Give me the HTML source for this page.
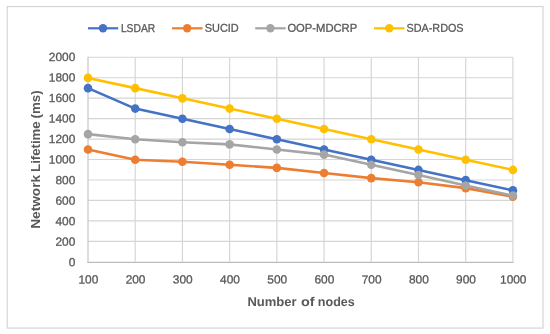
<!DOCTYPE html>
<html lang="en">
<head>
<meta charset="utf-8">
<title>Network Lifetime vs Number of nodes</title>
<style>
html,body{margin:0;padding:0;background:#fff;}
body{width:550px;height:334px;overflow:hidden;}
svg{display:block;}
text{font-family:"Liberation Sans",sans-serif;fill:#595959;}
.ax,.lg{stroke:#595959;stroke-width:0.3px;}
.ax{font-size:11.8px;}
.lg{font-size:11.3px;}
.tt{font-size:12.7px;font-weight:bold;}
</style>
</head>
<body>
<svg width="550" height="334" viewBox="0 0 550 334">
<rect x="0" y="0" width="550" height="334" fill="#ffffff"/>
<rect x="7.2" y="6.55" width="535.8" height="321.55" fill="#ffffff" stroke="#D3D3D3" stroke-width="1.15"/>

<g stroke="#D5D5D5" stroke-width="1.15" fill="none">
<line x1="88.00" y1="241.30" x2="512.90" y2="241.30"/>
<line x1="88.00" y1="220.85" x2="512.90" y2="220.85"/>
<line x1="88.00" y1="200.40" x2="512.90" y2="200.40"/>
<line x1="88.00" y1="179.95" x2="512.90" y2="179.95"/>
<line x1="88.00" y1="159.50" x2="512.90" y2="159.50"/>
<line x1="88.00" y1="139.05" x2="512.90" y2="139.05"/>
<line x1="88.00" y1="118.60" x2="512.90" y2="118.60"/>
<line x1="88.00" y1="98.15" x2="512.90" y2="98.15"/>
<line x1="88.00" y1="77.70" x2="512.90" y2="77.70"/>
<line x1="88.00" y1="57.25" x2="512.90" y2="57.25"/>
<line x1="135.21" y1="57.25" x2="135.21" y2="261.75"/>
<line x1="182.42" y1="57.25" x2="182.42" y2="261.75"/>
<line x1="229.63" y1="57.25" x2="229.63" y2="261.75"/>
<line x1="276.84" y1="57.25" x2="276.84" y2="261.75"/>
<line x1="324.06" y1="57.25" x2="324.06" y2="261.75"/>
<line x1="371.27" y1="57.25" x2="371.27" y2="261.75"/>
<line x1="418.48" y1="57.25" x2="418.48" y2="261.75"/>
<line x1="465.69" y1="57.25" x2="465.69" y2="261.75"/>
<line x1="512.90" y1="57.25" x2="512.90" y2="261.75"/>
</g>
<line x1="88.00" y1="56.75" x2="88.00" y2="262.65" stroke="#C8C8C8" stroke-width="1.25"/>
<line x1="87.40" y1="262.40" x2="513.50" y2="262.40" stroke="#BCBCBC" stroke-width="1.1"/>
<g class="ax" text-anchor="end">
<text transform="translate(75.3,266.20) rotate(0.03)" textLength="6.62" lengthAdjust="spacingAndGlyphs">0</text>
<text transform="translate(75.3,245.69) rotate(0.03)" textLength="19.86" lengthAdjust="spacingAndGlyphs">200</text>
<text transform="translate(75.3,225.17) rotate(0.03)" textLength="19.86" lengthAdjust="spacingAndGlyphs">400</text>
<text transform="translate(75.3,204.65) rotate(0.03)" textLength="19.86" lengthAdjust="spacingAndGlyphs">600</text>
<text transform="translate(75.3,184.14) rotate(0.03)" textLength="19.86" lengthAdjust="spacingAndGlyphs">800</text>
<text transform="translate(75.3,163.62) rotate(0.03)" textLength="26.48" lengthAdjust="spacingAndGlyphs">1000</text>
<text transform="translate(75.3,143.11) rotate(0.03)" textLength="26.48" lengthAdjust="spacingAndGlyphs">1200</text>
<text transform="translate(75.3,122.59) rotate(0.03)" textLength="26.48" lengthAdjust="spacingAndGlyphs">1400</text>
<text transform="translate(75.3,102.08) rotate(0.03)" textLength="26.48" lengthAdjust="spacingAndGlyphs">1600</text>
<text transform="translate(75.3,81.56) rotate(0.03)" textLength="26.48" lengthAdjust="spacingAndGlyphs">1800</text>
<text transform="translate(75.3,61.05) rotate(0.03)" textLength="26.48" lengthAdjust="spacingAndGlyphs">2000</text>
</g>
<g class="ax" text-anchor="middle">
<text transform="translate(88.35,283.4) rotate(0.03)" textLength="19.86" lengthAdjust="spacingAndGlyphs">100</text>
<text transform="translate(135.56,283.4) rotate(0.03)" textLength="19.86" lengthAdjust="spacingAndGlyphs">200</text>
<text transform="translate(182.77,283.4) rotate(0.03)" textLength="19.86" lengthAdjust="spacingAndGlyphs">300</text>
<text transform="translate(229.98,283.4) rotate(0.03)" textLength="19.86" lengthAdjust="spacingAndGlyphs">400</text>
<text transform="translate(277.19,283.4) rotate(0.03)" textLength="19.86" lengthAdjust="spacingAndGlyphs">500</text>
<text transform="translate(324.41,283.4) rotate(0.03)" textLength="19.86" lengthAdjust="spacingAndGlyphs">600</text>
<text transform="translate(371.62,283.4) rotate(0.03)" textLength="19.86" lengthAdjust="spacingAndGlyphs">700</text>
<text transform="translate(418.83,283.4) rotate(0.03)" textLength="19.86" lengthAdjust="spacingAndGlyphs">800</text>
<text transform="translate(466.04,283.4) rotate(0.03)" textLength="19.86" lengthAdjust="spacingAndGlyphs">900</text>
<text transform="translate(513.25,283.4) rotate(0.03)" textLength="26.48" lengthAdjust="spacingAndGlyphs">1000</text>
</g>
<g fill="#4472C4" stroke="none" transform="translate(0,0.2)">
<polyline points="88.00,87.93 135.21,108.38 182.42,118.60 229.63,128.82 276.84,139.05 324.06,149.28 371.27,159.50 418.48,169.72 465.69,179.95 512.90,190.18" fill="none" stroke="#4472C4" stroke-width="2.6" stroke-linejoin="round" stroke-linecap="round"/>
<circle cx="88.00" cy="87.93" r="4.3"/>
<circle cx="135.21" cy="108.38" r="4.3"/>
<circle cx="182.42" cy="118.60" r="4.3"/>
<circle cx="229.63" cy="128.82" r="4.3"/>
<circle cx="276.84" cy="139.05" r="4.3"/>
<circle cx="324.06" cy="149.28" r="4.3"/>
<circle cx="371.27" cy="159.50" r="4.3"/>
<circle cx="418.48" cy="169.72" r="4.3"/>
<circle cx="465.69" cy="179.95" r="4.3"/>
<circle cx="512.90" cy="190.18" r="4.3"/>
</g>
<g fill="#ED7D31" stroke="none" transform="translate(0,0.2)">
<polyline points="88.00,149.28 135.21,159.50 182.42,161.55 229.63,164.61 276.84,167.68 324.06,172.79 371.27,177.91 418.48,182.00 465.69,187.93 512.90,196.62" fill="none" stroke="#ED7D31" stroke-width="2.6" stroke-linejoin="round" stroke-linecap="round"/>
<circle cx="88.00" cy="149.28" r="4.3"/>
<circle cx="135.21" cy="159.50" r="4.3"/>
<circle cx="182.42" cy="161.55" r="4.3"/>
<circle cx="229.63" cy="164.61" r="4.3"/>
<circle cx="276.84" cy="167.68" r="4.3"/>
<circle cx="324.06" cy="172.79" r="4.3"/>
<circle cx="371.27" cy="177.91" r="4.3"/>
<circle cx="418.48" cy="182.00" r="4.3"/>
<circle cx="465.69" cy="187.93" r="4.3"/>
<circle cx="512.90" cy="196.62" r="4.3"/>
</g>
<g fill="#A5A5A5" stroke="none" transform="translate(0,0.2)">
<polyline points="88.00,133.94 135.21,139.05 182.42,142.12 229.63,144.16 276.84,149.28 324.06,154.39 371.27,164.61 418.48,174.84 465.69,185.37 512.90,195.39" fill="none" stroke="#A5A5A5" stroke-width="2.6" stroke-linejoin="round" stroke-linecap="round"/>
<circle cx="88.00" cy="133.94" r="4.3"/>
<circle cx="135.21" cy="139.05" r="4.3"/>
<circle cx="182.42" cy="142.12" r="4.3"/>
<circle cx="229.63" cy="144.16" r="4.3"/>
<circle cx="276.84" cy="149.28" r="4.3"/>
<circle cx="324.06" cy="154.39" r="4.3"/>
<circle cx="371.27" cy="164.61" r="4.3"/>
<circle cx="418.48" cy="174.84" r="4.3"/>
<circle cx="465.69" cy="185.37" r="4.3"/>
<circle cx="512.90" cy="195.39" r="4.3"/>
</g>
<g fill="#FFC000" stroke="none" transform="translate(0,0.2)">
<polyline points="88.00,77.70 135.21,87.93 182.42,98.15 229.63,108.38 276.84,118.60 324.06,128.82 371.27,139.05 418.48,149.28 465.69,159.50 512.90,169.72" fill="none" stroke="#FFC000" stroke-width="2.6" stroke-linejoin="round" stroke-linecap="round"/>
<circle cx="88.00" cy="77.70" r="4.3"/>
<circle cx="135.21" cy="87.93" r="4.3"/>
<circle cx="182.42" cy="98.15" r="4.3"/>
<circle cx="229.63" cy="108.38" r="4.3"/>
<circle cx="276.84" cy="118.60" r="4.3"/>
<circle cx="324.06" cy="128.82" r="4.3"/>
<circle cx="371.27" cy="139.05" r="4.3"/>
<circle cx="418.48" cy="149.28" r="4.3"/>
<circle cx="465.69" cy="159.50" r="4.3"/>
<circle cx="512.90" cy="169.72" r="4.3"/>
</g>
<line x1="88.0" y1="28.3" x2="118.2" y2="28.3" stroke="#4472C4" stroke-width="2.2"/>
<circle cx="103.0" cy="28.3" r="4.2" fill="#4472C4"/>
<text class="lg" transform="translate(120.9,31.8) rotate(0.03)" textLength="34.3" lengthAdjust="spacingAndGlyphs">LSDAR</text>
<line x1="172.0" y1="28.3" x2="202.6" y2="28.3" stroke="#ED7D31" stroke-width="2.2"/>
<circle cx="187.2" cy="28.3" r="4.2" fill="#ED7D31"/>
<text class="lg" transform="translate(204.7,31.8) rotate(0.03)" textLength="34.0" lengthAdjust="spacingAndGlyphs">SUCID</text>
<line x1="255.2" y1="28.3" x2="285.7" y2="28.3" stroke="#A5A5A5" stroke-width="2.2"/>
<circle cx="270.4" cy="28.3" r="4.2" fill="#A5A5A5"/>
<text class="lg" transform="translate(287.4,31.8) rotate(0.03)" textLength="69.8" lengthAdjust="spacingAndGlyphs">OOP-MDCRP</text>
<line x1="374.0" y1="28.3" x2="404.5" y2="28.3" stroke="#FFC000" stroke-width="2.2"/>
<circle cx="389.3" cy="28.3" r="4.2" fill="#FFC000"/>
<text class="lg" transform="translate(406.5,31.8) rotate(0.03)" textLength="57.1" lengthAdjust="spacingAndGlyphs">SDA-RDOS</text>
<text class="tt" transform="translate(247.40,306.1) rotate(0.03)" textLength="49.20" lengthAdjust="spacingAndGlyphs">Number</text>
<text class="tt" transform="translate(300.90,306.1) rotate(0.03)" textLength="13.60" lengthAdjust="spacingAndGlyphs">of</text>
<text class="tt" transform="translate(317.80,306.1) rotate(0.03)" textLength="37.00" lengthAdjust="spacingAndGlyphs">nodes</text>
<text class="tt" transform="translate(40.3,228.80) rotate(-90)" textLength="53.90" lengthAdjust="spacingAndGlyphs">Network</text>
<text class="tt" transform="translate(40.3,171.90) rotate(-90)" textLength="50.60" lengthAdjust="spacingAndGlyphs">Lifetime</text>
<text class="tt" transform="translate(40.3,118.40) rotate(-90)" textLength="28.00" lengthAdjust="spacingAndGlyphs">(ms)</text>
</svg>
</body>
</html>
